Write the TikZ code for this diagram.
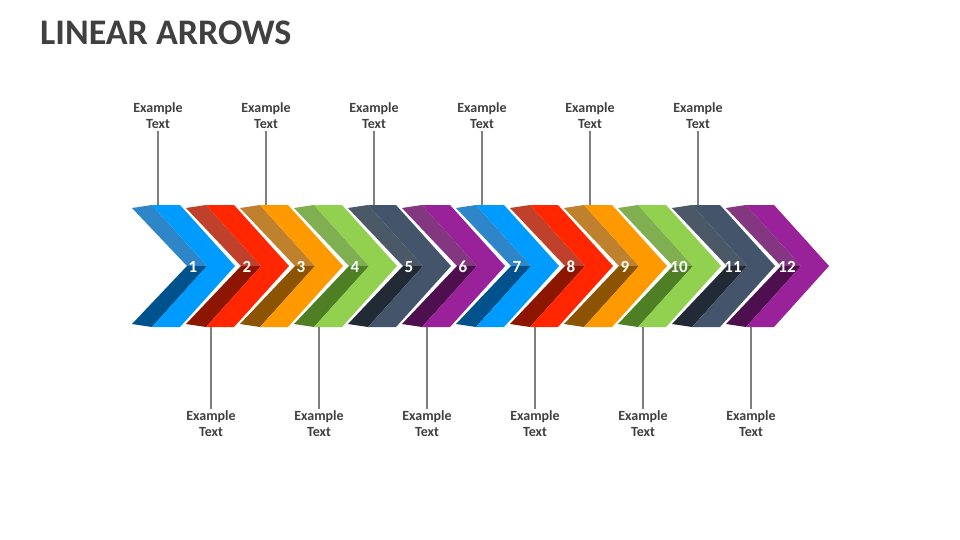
\documentclass[tikz,border=0pt]{standalone}
\usepackage{fontspec}
\setmainfont{Carlito}
\usepackage{tikz}
\usetikzlibrary{positioning}
\definecolor{titlegray}{RGB}{64,64,64}
\definecolor{leader}{RGB}{127,127,127}
\definecolor{bluA}{RGB}{0,155,255}  \definecolor{bluB}{RGB}{46,134,200}  \definecolor{bluC}{RGB}{0,82,140}
\definecolor{redA}{RGB}{255,38,0}   \definecolor{redB}{RGB}{192,65,43}   \definecolor{redC}{RGB}{140,22,0}
\definecolor{orgA}{RGB}{255,153,0}  \definecolor{orgB}{RGB}{192,129,46}  \definecolor{orgC}{RGB}{140,83,0}
\definecolor{grnA}{RGB}{146,208,80} \definecolor{grnB}{RGB}{127,175,80}  \definecolor{grnC}{RGB}{78,127,36}
\definecolor{sltA}{RGB}{68,84,106}  \definecolor{sltB}{RGB}{75,88,102}   \definecolor{sltC}{RGB}{34,42,53}
\definecolor{prpA}{RGB}{153,33,153} \definecolor{prpB}{RGB}{130,55,128}  \definecolor{prpC}{RGB}{78,15,79}
\tikzset{
	label text/.style={text=titlegray, font=\bfseries\fontsize{14}{16}\selectfont, align=center, inner sep=2pt},
	leader line/.style={draw=leader, line width=1.2pt},
	step number/.style={text=white, font=\bfseries\fontsize{17}{17}\selectfont, inner sep=0pt}
}
\newcommand{\chevron}[3]{% {number}{left x}{colour}
	\fill[#3B] (#2,208) -- (#2+20,205) -- (#2+75,266) -- (#2+55,266) -- cycle; % upper back
	\fill[#3A] (#2+20,205) -- (#2+48,205) -- (#2+103,266) -- (#2+75,266) -- cycle; % upper front
	\fill[#3C] (#2,324) -- (#2+20,327) -- (#2+75,266) -- (#2+55,266) -- cycle; % lower back
	\fill[#3A] (#2+20,327) -- (#2+48,327) -- (#2+103,266) -- (#2+75,266) -- cycle; % lower front
	\node[step number] (n#1) at (#2+61,267) {#1}; % number
	\coordinate (c#1-top) at (#2+26,205);
	\coordinate (c#1-bot) at (#2+25,327);
}
\begin{document}
\begin{tikzpicture}[x=1pt, y=-1pt]
	\useasboundingbox[fill=white] (0,0) rectangle (960,540);
	\node[anchor=base west, inner sep=0pt, text=titlegray, font=\bfseries\fontsize{36}{36}\selectfont] (title) at (40,45) {LINEAR ARROWS};

	\foreach \i/\col in {1/blu,2/red,3/org,4/grn,5/slt,6/prp,7/blu,8/red,9/org,10/grn,11/slt,12/prp}{
		\pgfmathsetmacro\L{132+54*(\i-1)}
		\chevron{\i}{\L}{\col}
		\ifodd\i
			\node[label text] (lbl\i) at (\L+26,116) {Example\\Text};
			\draw[leader line] (lbl\i.south) -- (c\i-top); % leader up
		\else
			\node[label text] (lbl\i) at (\L+25,424) {Example\\Text};
			\draw[leader line] (c\i-bot) -- (lbl\i.north); % leader down
		\fi
	}
\end{tikzpicture}
\end{document}
